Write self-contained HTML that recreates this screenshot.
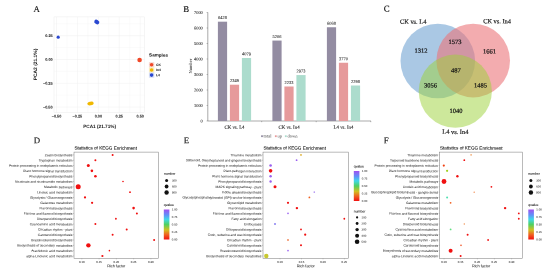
<!DOCTYPE html>
<html><head><meta charset="utf-8"><style>
html,body{margin:0;padding:0;background:#fff;}
body{width:550px;height:272px;overflow:hidden;}
svg{display:block;text-rendering:geometricPrecision;filter:blur(0.3px);}
</style></head><body>
<svg width="550" height="272" viewBox="0 0 550 272">
<rect width="550" height="272" fill="#fff"/>
<text transform="translate(33.60,11.90) rotate(0.2)" font-size="8.8" font-family='"Liberation Serif", serif' fill="#111" stroke="#111" stroke-width="0.15" >A</text>
<rect x="54.0" y="16.9" width="90.5" height="95.69999999999999" fill="#fff" stroke="#ececec" stroke-width="0.5"/>
<line x1="66.96" y1="16.9" x2="66.96" y2="112.6" stroke="#f6f6f6" stroke-width="0.4"/>
<line x1="54.0" y1="95.20" x2="144.5" y2="95.20" stroke="#f6f6f6" stroke-width="0.4"/>
<line x1="87.89" y1="16.9" x2="87.89" y2="112.6" stroke="#f6f6f6" stroke-width="0.4"/>
<line x1="54.0" y1="71.40" x2="144.5" y2="71.40" stroke="#f6f6f6" stroke-width="0.4"/>
<line x1="108.81" y1="16.9" x2="108.81" y2="112.6" stroke="#f6f6f6" stroke-width="0.4"/>
<line x1="54.0" y1="47.60" x2="144.5" y2="47.60" stroke="#f6f6f6" stroke-width="0.4"/>
<line x1="129.74" y1="16.9" x2="129.74" y2="112.6" stroke="#f6f6f6" stroke-width="0.4"/>
<line x1="54.0" y1="23.80" x2="144.5" y2="23.80" stroke="#f6f6f6" stroke-width="0.4"/>
<line x1="56.50" y1="16.9" x2="56.50" y2="112.6" stroke="#efefef" stroke-width="0.5"/>
<line x1="54.0" y1="107.10" x2="144.5" y2="107.10" stroke="#efefef" stroke-width="0.5"/>
<line x1="77.42" y1="16.9" x2="77.42" y2="112.6" stroke="#efefef" stroke-width="0.5"/>
<line x1="54.0" y1="83.30" x2="144.5" y2="83.30" stroke="#efefef" stroke-width="0.5"/>
<line x1="98.35" y1="16.9" x2="98.35" y2="112.6" stroke="#efefef" stroke-width="0.5"/>
<line x1="54.0" y1="59.50" x2="144.5" y2="59.50" stroke="#efefef" stroke-width="0.5"/>
<line x1="119.27" y1="16.9" x2="119.27" y2="112.6" stroke="#efefef" stroke-width="0.5"/>
<line x1="54.0" y1="35.70" x2="144.5" y2="35.70" stroke="#efefef" stroke-width="0.5"/>
<line x1="140.20" y1="16.9" x2="140.20" y2="112.6" stroke="#efefef" stroke-width="0.5"/>
<text transform="translate(52.60,37.05) rotate(0.2)" font-size="3.8" font-family='"Liberation Sans", sans-serif' text-anchor="end" fill="#333" font-weight="bold" stroke="#333" stroke-width="0.1" >0.25</text>
<text transform="translate(52.60,60.85) rotate(0.2)" font-size="3.8" font-family='"Liberation Sans", sans-serif' text-anchor="end" fill="#333" font-weight="bold" stroke="#333" stroke-width="0.1" >0.00</text>
<text transform="translate(52.60,84.65) rotate(0.2)" font-size="3.8" font-family='"Liberation Sans", sans-serif' text-anchor="end" fill="#333" font-weight="bold" stroke="#333" stroke-width="0.1" >−0.25</text>
<text transform="translate(52.60,108.45) rotate(0.2)" font-size="3.8" font-family='"Liberation Sans", sans-serif' text-anchor="end" fill="#333" font-weight="bold" stroke="#333" stroke-width="0.1" >−0.50</text>
<text transform="translate(56.50,117.60) rotate(0.2)" font-size="3.8" font-family='"Liberation Sans", sans-serif' text-anchor="middle" fill="#333" font-weight="bold" stroke="#333" stroke-width="0.1" >−0.50</text>
<text transform="translate(77.42,117.60) rotate(0.2)" font-size="3.8" font-family='"Liberation Sans", sans-serif' text-anchor="middle" fill="#333" font-weight="bold" stroke="#333" stroke-width="0.1" >−0.25</text>
<text transform="translate(98.35,117.60) rotate(0.2)" font-size="3.8" font-family='"Liberation Sans", sans-serif' text-anchor="middle" fill="#333" font-weight="bold" stroke="#333" stroke-width="0.1" >0.00</text>
<text transform="translate(119.27,117.60) rotate(0.2)" font-size="3.8" font-family='"Liberation Sans", sans-serif' text-anchor="middle" fill="#333" font-weight="bold" stroke="#333" stroke-width="0.1" >0.25</text>
<text transform="translate(140.20,117.60) rotate(0.2)" font-size="3.8" font-family='"Liberation Sans", sans-serif' text-anchor="middle" fill="#333" font-weight="bold" stroke="#333" stroke-width="0.1" >0.50</text>
<text transform="translate(99.60,128.00) rotate(0.2)" font-size="4.7" font-family='"Liberation Sans", sans-serif' text-anchor="middle" fill="#111" font-weight="bold" >PCA1 (21.71%)</text>
<text x="0" y="0" font-size="4.9" font-family='"Liberation Sans", sans-serif' font-weight="bold" fill="#111" text-anchor="middle" transform="translate(37.2,64.5) rotate(-90)">PCA2 (21.1%)</text>
<circle cx="58.2" cy="37.2" r="1.6" fill="#2a48d0"/>
<ellipse cx="96.8" cy="22.0" rx="2.7" ry="2.1" fill="#2a48d0" transform="rotate(30 96.8 22)"/>
<circle cx="139.6" cy="60.0" r="2.3" fill="#f04828"/>
<ellipse cx="90.5" cy="103.5" rx="3.2" ry="1.9" fill="#f0b800" transform="rotate(-10 90.5 103.5)"/>
<text transform="translate(149.10,56.60) rotate(0.2)" font-size="4.6" font-family='"Liberation Sans", sans-serif' fill="#111" font-weight="bold" >Samples</text>
<rect x="148.9" y="62.20" width="5.4" height="5.2" fill="#f8d8d0"/>
<circle cx="151.6" cy="64.80" r="1.8" fill="#f04828"/>
<text transform="translate(156.00,65.95) rotate(0.2)" font-size="3.3" font-family='"Liberation Sans", sans-serif' fill="#333" font-weight="bold" stroke="#333" stroke-width="0.08" >CK</text>
<rect x="148.9" y="67.35" width="5.4" height="5.2" fill="#f8ecc0"/>
<circle cx="151.6" cy="69.95" r="1.8" fill="#f0b800"/>
<text transform="translate(156.00,71.10) rotate(0.2)" font-size="3.3" font-family='"Liberation Sans", sans-serif' fill="#333" font-weight="bold" stroke="#333" stroke-width="0.08" >In4</text>
<rect x="148.9" y="72.50" width="5.4" height="5.2" fill="#d4dcf4"/>
<circle cx="151.6" cy="75.10" r="1.8" fill="#2a48d0"/>
<text transform="translate(156.00,76.25) rotate(0.2)" font-size="3.3" font-family='"Liberation Sans", sans-serif' fill="#333" font-weight="bold" stroke="#333" stroke-width="0.08" >L4</text>
<text transform="translate(183.30,11.90) rotate(0.2)" font-size="8.8" font-family='"Liberation Serif", serif' fill="#111" stroke="#111" stroke-width="0.15" >B</text>
<line x1="207.8" y1="12.4" x2="207.8" y2="121.0" stroke="#555" stroke-width="0.5"/>
<line x1="207.8" y1="121.0" x2="371" y2="121.0" stroke="#555" stroke-width="0.5"/>
<line x1="206.60000000000002" y1="121.00" x2="207.8" y2="121.00" stroke="#555" stroke-width="0.4"/>
<text transform="translate(202.80,122.50) rotate(0.2)" font-size="4.4" font-family='"Liberation Serif", serif' text-anchor="end" fill="#333" stroke="#333" stroke-width="0.08" >0</text>
<line x1="206.60000000000002" y1="105.50" x2="207.8" y2="105.50" stroke="#555" stroke-width="0.4"/>
<text transform="translate(202.80,107.00) rotate(0.2)" font-size="4.4" font-family='"Liberation Serif", serif' text-anchor="end" fill="#333" stroke="#333" stroke-width="0.08" >1000</text>
<line x1="206.60000000000002" y1="90.00" x2="207.8" y2="90.00" stroke="#555" stroke-width="0.4"/>
<text transform="translate(202.80,91.50) rotate(0.2)" font-size="4.4" font-family='"Liberation Serif", serif' text-anchor="end" fill="#333" stroke="#333" stroke-width="0.08" >2000</text>
<line x1="206.60000000000002" y1="74.50" x2="207.8" y2="74.50" stroke="#555" stroke-width="0.4"/>
<text transform="translate(202.80,76.00) rotate(0.2)" font-size="4.4" font-family='"Liberation Serif", serif' text-anchor="end" fill="#333" stroke="#333" stroke-width="0.08" >3000</text>
<line x1="206.60000000000002" y1="59.00" x2="207.8" y2="59.00" stroke="#555" stroke-width="0.4"/>
<text transform="translate(202.80,60.50) rotate(0.2)" font-size="4.4" font-family='"Liberation Serif", serif' text-anchor="end" fill="#333" stroke="#333" stroke-width="0.08" >4000</text>
<line x1="206.60000000000002" y1="43.50" x2="207.8" y2="43.50" stroke="#555" stroke-width="0.4"/>
<text transform="translate(202.80,45.00) rotate(0.2)" font-size="4.4" font-family='"Liberation Serif", serif' text-anchor="end" fill="#333" stroke="#333" stroke-width="0.08" >5000</text>
<line x1="206.60000000000002" y1="28.00" x2="207.8" y2="28.00" stroke="#555" stroke-width="0.4"/>
<text transform="translate(202.80,29.50) rotate(0.2)" font-size="4.4" font-family='"Liberation Serif", serif' text-anchor="end" fill="#333" stroke="#333" stroke-width="0.08" >6000</text>
<line x1="206.60000000000002" y1="12.50" x2="207.8" y2="12.50" stroke="#555" stroke-width="0.4"/>
<text transform="translate(202.80,14.00) rotate(0.2)" font-size="4.4" font-family='"Liberation Serif", serif' text-anchor="end" fill="#333" stroke="#333" stroke-width="0.08" >7000</text>
<line x1="261.7" y1="121.0" x2="261.7" y2="122.2" stroke="#555" stroke-width="0.4"/>
<line x1="316.2" y1="121.0" x2="316.2" y2="122.2" stroke="#555" stroke-width="0.4"/>
<line x1="370.8" y1="121.0" x2="370.8" y2="122.2" stroke="#555" stroke-width="0.4"/>
<text x="0" y="0" font-size="4.5" font-family='"Liberation Serif", serif' fill="#333" text-anchor="middle" transform="translate(191.5,66) rotate(-90)">Number</text>
<rect x="217.90" y="21.69" width="9.2" height="99.31" fill="#938ca2"/>
<text transform="translate(222.50,19.09) rotate(0.2)" font-size="4.4" font-family='"Liberation Serif", serif' text-anchor="middle" fill="#333" stroke="#333" stroke-width="0.08" >6428</text>
<rect x="229.90" y="84.71" width="9.2" height="36.29" fill="#e69a9b"/>
<text transform="translate(234.50,82.11) rotate(0.2)" font-size="4.4" font-family='"Liberation Serif", serif' text-anchor="middle" fill="#333" stroke="#333" stroke-width="0.08" >2349</text>
<rect x="241.90" y="57.98" width="9.2" height="63.02" fill="#acdccd"/>
<text transform="translate(246.50,55.38) rotate(0.2)" font-size="4.4" font-family='"Liberation Serif", serif' text-anchor="middle" fill="#333" stroke="#333" stroke-width="0.08" >4079</text>
<text transform="translate(234.50,128.80) rotate(0.2)" font-size="4.85" font-family='"Liberation Serif", serif' text-anchor="middle" fill="#222" stroke="#222" stroke-width="0.1" >CK vs. L4</text>
<rect x="272.40" y="40.57" width="9.2" height="80.43" fill="#938ca2"/>
<text transform="translate(277.00,37.97) rotate(0.2)" font-size="4.4" font-family='"Liberation Serif", serif' text-anchor="middle" fill="#333" stroke="#333" stroke-width="0.08" >5206</text>
<rect x="284.40" y="86.50" width="9.2" height="34.50" fill="#e69a9b"/>
<text transform="translate(289.00,83.90) rotate(0.2)" font-size="4.4" font-family='"Liberation Serif", serif' text-anchor="middle" fill="#333" stroke="#333" stroke-width="0.08" >2233</text>
<rect x="296.40" y="75.07" width="9.2" height="45.93" fill="#acdccd"/>
<text transform="translate(301.00,72.47) rotate(0.2)" font-size="4.4" font-family='"Liberation Serif", serif' text-anchor="middle" fill="#333" stroke="#333" stroke-width="0.08" >2973</text>
<text transform="translate(289.00,128.80) rotate(0.2)" font-size="4.85" font-family='"Liberation Serif", serif' text-anchor="middle" fill="#222" stroke="#222" stroke-width="0.1" >CK vs. In4</text>
<rect x="326.90" y="27.25" width="9.2" height="93.75" fill="#938ca2"/>
<text transform="translate(331.50,24.65) rotate(0.2)" font-size="4.4" font-family='"Liberation Serif", serif' text-anchor="middle" fill="#333" stroke="#333" stroke-width="0.08" >6068</text>
<rect x="338.90" y="62.75" width="9.2" height="58.25" fill="#e69a9b"/>
<text transform="translate(343.50,60.15) rotate(0.2)" font-size="4.4" font-family='"Liberation Serif", serif' text-anchor="middle" fill="#333" stroke="#333" stroke-width="0.08" >3770</text>
<rect x="350.90" y="85.50" width="9.2" height="35.50" fill="#acdccd"/>
<text transform="translate(355.50,82.90) rotate(0.2)" font-size="4.4" font-family='"Liberation Serif", serif' text-anchor="middle" fill="#333" stroke="#333" stroke-width="0.08" >2298</text>
<text transform="translate(343.50,128.80) rotate(0.2)" font-size="4.85" font-family='"Liberation Serif", serif' text-anchor="middle" fill="#222" stroke="#222" stroke-width="0.1" >L4 vs. In4</text>
<rect x="261.10" y="135.3" width="1.8" height="1.8" fill="#938ca2"/>
<text transform="translate(263.40,137.60) rotate(0.2)" font-size="4.5" font-family='"Liberation Serif", serif' fill="#666" stroke="#666" stroke-width="0.05" >total</text>
<rect x="274.90" y="135.3" width="1.8" height="1.8" fill="#e69a9b"/>
<text transform="translate(277.40,137.60) rotate(0.2)" font-size="4.5" font-family='"Liberation Serif", serif' fill="#666" stroke="#666" stroke-width="0.05" >up</text>
<rect x="284.90" y="135.3" width="1.8" height="1.8" fill="#acdccd"/>
<text transform="translate(287.40,137.60) rotate(0.2)" font-size="4.5" font-family='"Liberation Serif", serif' fill="#666" stroke="#666" stroke-width="0.05" >down</text>
<text transform="translate(383.80,11.60) rotate(0.2)" font-size="8.8" font-family='"Liberation Serif", serif' fill="#111" stroke="#111" stroke-width="0.15" >C</text>
<g>
<circle cx="437.8" cy="61.0" r="37.3" fill="#5591c9" fill-opacity="0.5"/>
<circle cx="473.2" cy="60.6" r="36.8" fill="#eb757a" fill-opacity="0.6"/>
<circle cx="455.3" cy="91.2" r="36.6" fill="#9bd137" fill-opacity="0.5"/>
</g>
<text transform="translate(399.90,23.70) rotate(0.2)" font-size="6.4" font-family='"Liberation Serif", serif' fill="#111" stroke="#111" stroke-width="0.15" >CK vs. L4</text>
<text transform="translate(511.00,23.40) rotate(0.2)" font-size="6.4" font-family='"Liberation Serif", serif' text-anchor="end" fill="#111" stroke="#111" stroke-width="0.15" >CK vs. In4</text>
<text transform="translate(455.30,133.90) rotate(0.2)" font-size="6.4" font-family='"Liberation Serif", serif' text-anchor="middle" fill="#111" stroke="#111" stroke-width="0.15" >L4 vs. In4</text>
<text transform="translate(421.00,52.80) rotate(0.2)" font-size="6.5" font-family='"Liberation Serif", serif' text-anchor="middle" fill="#111" stroke="#111" stroke-width="0.2" >1312</text>
<text transform="translate(455.00,44.10) rotate(0.2)" font-size="6.5" font-family='"Liberation Serif", serif' text-anchor="middle" fill="#111" stroke="#111" stroke-width="0.2" >1573</text>
<text transform="translate(489.50,53.40) rotate(0.2)" font-size="6.5" font-family='"Liberation Serif", serif' text-anchor="middle" fill="#111" stroke="#111" stroke-width="0.2" >1661</text>
<text transform="translate(455.80,72.50) rotate(0.2)" font-size="6.5" font-family='"Liberation Serif", serif' text-anchor="middle" fill="#111" stroke="#111" stroke-width="0.2" >487</text>
<text transform="translate(430.60,87.60) rotate(0.2)" font-size="6.5" font-family='"Liberation Serif", serif' text-anchor="middle" fill="#111" stroke="#111" stroke-width="0.2" >3056</text>
<text transform="translate(480.40,87.40) rotate(0.2)" font-size="6.5" font-family='"Liberation Serif", serif' text-anchor="middle" fill="#111" stroke="#111" stroke-width="0.2" >1485</text>
<text transform="translate(456.00,112.90) rotate(0.2)" font-size="6.5" font-family='"Liberation Serif", serif' text-anchor="middle" fill="#111" stroke="#111" stroke-width="0.2" >1040</text>
<text transform="translate(33.75,143.20) rotate(0.2)" font-size="8.8" font-family='"Liberation Serif", serif' fill="#111" stroke="#111" stroke-width="0.15" >D</text>
<text transform="translate(74.40,149.50) rotate(0.2)" font-size="4.6" font-family='"Liberation Sans", sans-serif' fill="#222" stroke="#222" stroke-width="0.1" >Statistics of KEGG Enrichment</text>
<rect x="74.0" y="152.1" width="84.6" height="106.29999999999998" fill="none" stroke="#777" stroke-width="0.5"/>
<line x1="73.0" y1="154.90" x2="74.0" y2="154.90" stroke="#777" stroke-width="0.35"/>
<text transform="translate(72.50,156.25) rotate(0.2)" font-size="3.25" font-family='"Liberation Sans", sans-serif' text-anchor="end" fill="#333" stroke="#333" stroke-width="0.03" >Zeatin biosynthesis</text>
<line x1="73.0" y1="160.22" x2="74.0" y2="160.22" stroke="#777" stroke-width="0.35"/>
<text transform="translate(72.50,161.57) rotate(0.2)" font-size="3.25" font-family='"Liberation Sans", sans-serif' text-anchor="end" fill="#333" stroke="#333" stroke-width="0.03" >Tryptophan metabolism</text>
<line x1="73.0" y1="165.54" x2="74.0" y2="165.54" stroke="#777" stroke-width="0.35"/>
<text transform="translate(72.50,166.89) rotate(0.2)" font-size="3.25" font-family='"Liberation Sans", sans-serif' text-anchor="end" fill="#333" stroke="#333" stroke-width="0.03" >Protein processing in endoplasmic reticulum</text>
<line x1="73.0" y1="170.86" x2="74.0" y2="170.86" stroke="#777" stroke-width="0.35"/>
<text transform="translate(72.50,172.21) rotate(0.2)" font-size="3.25" font-family='"Liberation Sans", sans-serif' text-anchor="end" fill="#333" stroke="#333" stroke-width="0.03" >Plant hormone signal transduction</text>
<line x1="73.0" y1="176.18" x2="74.0" y2="176.18" stroke="#777" stroke-width="0.35"/>
<text transform="translate(72.50,177.53) rotate(0.2)" font-size="3.25" font-family='"Liberation Sans", sans-serif' text-anchor="end" fill="#333" stroke="#333" stroke-width="0.03" >Phenylpropanoid biosynthesis</text>
<line x1="73.0" y1="181.50" x2="74.0" y2="181.50" stroke="#777" stroke-width="0.35"/>
<text transform="translate(72.50,182.85) rotate(0.2)" font-size="3.25" font-family='"Liberation Sans", sans-serif' text-anchor="end" fill="#333" stroke="#333" stroke-width="0.03" >Nicotinate and nicotinamide metabolism</text>
<line x1="73.0" y1="186.82" x2="74.0" y2="186.82" stroke="#777" stroke-width="0.35"/>
<text transform="translate(72.50,188.17) rotate(0.2)" font-size="3.25" font-family='"Liberation Sans", sans-serif' text-anchor="end" fill="#333" stroke="#333" stroke-width="0.03" >Metabolic pathways</text>
<line x1="73.0" y1="192.14" x2="74.0" y2="192.14" stroke="#777" stroke-width="0.35"/>
<text transform="translate(72.50,193.49) rotate(0.2)" font-size="3.25" font-family='"Liberation Sans", sans-serif' text-anchor="end" fill="#333" stroke="#333" stroke-width="0.03" >Linoleic acid metabolism</text>
<line x1="73.0" y1="197.46" x2="74.0" y2="197.46" stroke="#777" stroke-width="0.35"/>
<text transform="translate(72.50,198.81) rotate(0.2)" font-size="3.25" font-family='"Liberation Sans", sans-serif' text-anchor="end" fill="#333" stroke="#333" stroke-width="0.03" >Glycolysis / Gluconeogenesis</text>
<line x1="73.0" y1="202.78" x2="74.0" y2="202.78" stroke="#777" stroke-width="0.35"/>
<text transform="translate(72.50,204.13) rotate(0.2)" font-size="3.25" font-family='"Liberation Sans", sans-serif' text-anchor="end" fill="#333" stroke="#333" stroke-width="0.03" >Galactose metabolism</text>
<line x1="73.0" y1="208.10" x2="74.0" y2="208.10" stroke="#777" stroke-width="0.35"/>
<text transform="translate(72.50,209.45) rotate(0.2)" font-size="3.25" font-family='"Liberation Sans", sans-serif' text-anchor="end" fill="#333" stroke="#333" stroke-width="0.03" >Flavonoid biosynthesis</text>
<line x1="73.0" y1="213.42" x2="74.0" y2="213.42" stroke="#777" stroke-width="0.35"/>
<text transform="translate(72.50,214.77) rotate(0.2)" font-size="3.25" font-family='"Liberation Sans", sans-serif' text-anchor="end" fill="#333" stroke="#333" stroke-width="0.03" >Flavone and flavonol biosynthesis</text>
<line x1="73.0" y1="218.74" x2="74.0" y2="218.74" stroke="#777" stroke-width="0.35"/>
<text transform="translate(72.50,220.09) rotate(0.2)" font-size="3.25" font-family='"Liberation Sans", sans-serif' text-anchor="end" fill="#333" stroke="#333" stroke-width="0.03" >Diterpenoid biosynthesis</text>
<line x1="73.0" y1="224.06" x2="74.0" y2="224.06" stroke="#777" stroke-width="0.35"/>
<text transform="translate(72.50,225.41) rotate(0.2)" font-size="3.25" font-family='"Liberation Sans", sans-serif' text-anchor="end" fill="#333" stroke="#333" stroke-width="0.03" >Cyanoamino acid metabolism</text>
<line x1="73.0" y1="229.38" x2="74.0" y2="229.38" stroke="#777" stroke-width="0.35"/>
<text transform="translate(72.50,230.73) rotate(0.2)" font-size="3.25" font-family='"Liberation Sans", sans-serif' text-anchor="end" fill="#333" stroke="#333" stroke-width="0.03" >Circadian rhythm - plant</text>
<line x1="73.0" y1="234.70" x2="74.0" y2="234.70" stroke="#777" stroke-width="0.35"/>
<text transform="translate(72.50,236.05) rotate(0.2)" font-size="3.25" font-family='"Liberation Sans", sans-serif' text-anchor="end" fill="#333" stroke="#333" stroke-width="0.03" >Carotenoid biosynthesis</text>
<line x1="73.0" y1="240.02" x2="74.0" y2="240.02" stroke="#777" stroke-width="0.35"/>
<text transform="translate(72.50,241.37) rotate(0.2)" font-size="3.25" font-family='"Liberation Sans", sans-serif' text-anchor="end" fill="#333" stroke="#333" stroke-width="0.03" >Brassinosteroid biosynthesis</text>
<line x1="73.0" y1="245.34" x2="74.0" y2="245.34" stroke="#777" stroke-width="0.35"/>
<text transform="translate(72.50,246.69) rotate(0.2)" font-size="3.25" font-family='"Liberation Sans", sans-serif' text-anchor="end" fill="#333" stroke="#333" stroke-width="0.03" >Biosynthesis of secondary metabolites</text>
<line x1="73.0" y1="250.66" x2="74.0" y2="250.66" stroke="#777" stroke-width="0.35"/>
<text transform="translate(72.50,252.01) rotate(0.2)" font-size="3.25" font-family='"Liberation Sans", sans-serif' text-anchor="end" fill="#333" stroke="#333" stroke-width="0.03" >Arachidonic acid metabolism</text>
<line x1="73.0" y1="255.98" x2="74.0" y2="255.98" stroke="#777" stroke-width="0.35"/>
<text transform="translate(72.50,257.33) rotate(0.2)" font-size="3.25" font-family='"Liberation Sans", sans-serif' text-anchor="end" fill="#333" stroke="#333" stroke-width="0.03" >alpha-Linolenic acid metabolism</text>
<circle cx="112.60" cy="154.90" r="1.0" fill="#f01010"/>
<circle cx="95.40" cy="160.22" r="1.0" fill="#f01010"/>
<circle cx="88.30" cy="165.54" r="1.5" fill="#f01010"/>
<circle cx="91.90" cy="170.86" r="1.3" fill="#f01010"/>
<circle cx="95.40" cy="176.18" r="1.3" fill="#f01010"/>
<circle cx="123.00" cy="181.50" r="0.8" fill="#f01010"/>
<circle cx="78.20" cy="186.82" r="2.5" fill="#f01010"/>
<circle cx="130.00" cy="192.14" r="0.9" fill="#f01010"/>
<circle cx="85.00" cy="197.46" r="1.1" fill="#f01010"/>
<circle cx="92.10" cy="202.78" r="1.1" fill="#f01010"/>
<circle cx="133.60" cy="208.10" r="1.3" fill="#f01010"/>
<circle cx="136.90" cy="213.42" r="1.0" fill="#f01010"/>
<circle cx="115.90" cy="218.74" r="0.9" fill="#f01010"/>
<circle cx="95.40" cy="224.06" r="1.0" fill="#f01010"/>
<circle cx="126.70" cy="229.38" r="1.0" fill="#f01010"/>
<circle cx="112.60" cy="234.70" r="1.0" fill="#f01010"/>
<circle cx="154.10" cy="240.02" r="1.0" fill="#f01010"/>
<circle cx="88.40" cy="245.34" r="2.2" fill="#f01010"/>
<circle cx="109.40" cy="250.66" r="0.8" fill="#f01010"/>
<circle cx="102.40" cy="255.98" r="1.1" fill="#f01010"/>
<line x1="81.80" y1="258.4" x2="81.80" y2="259.4" stroke="#777" stroke-width="0.35"/>
<text transform="translate(81.80,262.90) rotate(0.2)" font-size="2.9" font-family='"Liberation Sans", sans-serif' text-anchor="middle" fill="#444" stroke="#444" stroke-width="0.07" >0.10</text>
<line x1="99.10" y1="258.4" x2="99.10" y2="259.4" stroke="#777" stroke-width="0.35"/>
<text transform="translate(99.10,262.90) rotate(0.2)" font-size="2.9" font-family='"Liberation Sans", sans-serif' text-anchor="middle" fill="#444" stroke="#444" stroke-width="0.07" >0.15</text>
<line x1="116.40" y1="258.4" x2="116.40" y2="259.4" stroke="#777" stroke-width="0.35"/>
<text transform="translate(116.40,262.90) rotate(0.2)" font-size="2.9" font-family='"Liberation Sans", sans-serif' text-anchor="middle" fill="#444" stroke="#444" stroke-width="0.07" >0.20</text>
<line x1="133.60" y1="258.4" x2="133.60" y2="259.4" stroke="#777" stroke-width="0.35"/>
<text transform="translate(133.60,262.90) rotate(0.2)" font-size="2.9" font-family='"Liberation Sans", sans-serif' text-anchor="middle" fill="#444" stroke="#444" stroke-width="0.07" >0.25</text>
<line x1="150.90" y1="258.4" x2="150.90" y2="259.4" stroke="#777" stroke-width="0.35"/>
<text transform="translate(150.90,262.90) rotate(0.2)" font-size="2.9" font-family='"Liberation Sans", sans-serif' text-anchor="middle" fill="#444" stroke="#444" stroke-width="0.07" >0.30</text>
<text transform="translate(116.30,267.20) rotate(0.2)" font-size="3.8" font-family='"Liberation Sans", sans-serif' text-anchor="middle" fill="#222" stroke="#222" stroke-width="0.04" >Rich factor</text>
<text transform="translate(164.00,174.70) rotate(0.2)" font-size="3.4" font-family='"Liberation Sans", sans-serif' fill="#222" stroke="#222" stroke-width="0.08" >number</text>
<circle cx="166.60" cy="180.50" r="1.5" fill="#111"/>
<text transform="translate(172.00,181.50) rotate(0.2)" font-size="2.8" font-family='"Liberation Sans", sans-serif' fill="#444" stroke="#444" stroke-width="0.06" >300</text>
<circle cx="166.60" cy="186.50" r="1.9" fill="#111"/>
<text transform="translate(172.00,187.50) rotate(0.2)" font-size="2.8" font-family='"Liberation Sans", sans-serif' fill="#444" stroke="#444" stroke-width="0.06" >600</text>
<circle cx="166.60" cy="192.50" r="2.2" fill="#111"/>
<text transform="translate(172.00,193.50) rotate(0.2)" font-size="2.8" font-family='"Liberation Sans", sans-serif' fill="#444" stroke="#444" stroke-width="0.06" >900</text>
<text transform="translate(163.80,206.00) rotate(0.2)" font-size="3.4" font-family='"Liberation Sans", sans-serif' fill="#222" stroke="#222" stroke-width="0.08" >qvalue</text>
<defs><linearGradient id="g163" x1="0" y1="0" x2="0" y2="1"><stop offset="0" stop-color="#a050f0"/><stop offset="0.18" stop-color="#6090f8"/><stop offset="0.33" stop-color="#40d8e8"/><stop offset="0.5" stop-color="#50d060"/><stop offset="0.68" stop-color="#d0c020"/><stop offset="0.84" stop-color="#f06020"/><stop offset="1" stop-color="#f01010"/></linearGradient></defs>
<rect x="163.80" y="209.50" width="5.6" height="30" fill="url(#g163)"/>
<text transform="translate(171.80,210.50) rotate(0.2)" font-size="2.8" font-family='"Liberation Sans", sans-serif' fill="#444" stroke="#444" stroke-width="0.06" >1.00</text>
<text transform="translate(171.80,218.00) rotate(0.2)" font-size="2.8" font-family='"Liberation Sans", sans-serif' fill="#444" stroke="#444" stroke-width="0.06" >0.75</text>
<text transform="translate(171.80,225.50) rotate(0.2)" font-size="2.8" font-family='"Liberation Sans", sans-serif' fill="#444" stroke="#444" stroke-width="0.06" >0.50</text>
<text transform="translate(171.80,233.00) rotate(0.2)" font-size="2.8" font-family='"Liberation Sans", sans-serif' fill="#444" stroke="#444" stroke-width="0.06" >0.25</text>
<text transform="translate(171.80,240.50) rotate(0.2)" font-size="2.8" font-family='"Liberation Sans", sans-serif' fill="#444" stroke="#444" stroke-width="0.06" >0.00</text>
<text transform="translate(183.75,143.20) rotate(0.2)" font-size="8.8" font-family='"Liberation Serif", serif' fill="#111" stroke="#111" stroke-width="0.15" >E</text>
<text transform="translate(263.40,149.50) rotate(0.2)" font-size="4.6" font-family='"Liberation Sans", sans-serif' fill="#222" stroke="#222" stroke-width="0.1" >Statistics of KEGG Enrichment</text>
<rect x="263.0" y="152.1" width="85.5" height="106.29999999999998" fill="none" stroke="#777" stroke-width="0.5"/>
<line x1="262.0" y1="154.90" x2="263.0" y2="154.90" stroke="#777" stroke-width="0.35"/>
<text transform="translate(261.50,156.25) rotate(0.2)" font-size="3.25" font-family='"Liberation Sans", sans-serif' text-anchor="end" fill="#333" stroke="#333" stroke-width="0.03" >Thiamine metabolism</text>
<line x1="262.0" y1="160.22" x2="263.0" y2="160.22" stroke="#777" stroke-width="0.35"/>
<text transform="translate(261.50,161.57) rotate(0.2)" font-size="3.25" font-family='"Liberation Sans", sans-serif' text-anchor="end" fill="#333" stroke="#333" stroke-width="0.03" >Stilbenoid, diarylheptanoid and gingerol biosynthesis</text>
<line x1="262.0" y1="165.54" x2="263.0" y2="165.54" stroke="#777" stroke-width="0.35"/>
<text transform="translate(261.50,166.89) rotate(0.2)" font-size="3.25" font-family='"Liberation Sans", sans-serif' text-anchor="end" fill="#333" stroke="#333" stroke-width="0.03" >Protein processing in endoplasmic reticulum</text>
<line x1="262.0" y1="170.86" x2="263.0" y2="170.86" stroke="#777" stroke-width="0.35"/>
<text transform="translate(261.50,172.21) rotate(0.2)" font-size="3.25" font-family='"Liberation Sans", sans-serif' text-anchor="end" fill="#333" stroke="#333" stroke-width="0.03" >Plant-pathogen interaction</text>
<line x1="262.0" y1="176.18" x2="263.0" y2="176.18" stroke="#777" stroke-width="0.35"/>
<text transform="translate(261.50,177.53) rotate(0.2)" font-size="3.25" font-family='"Liberation Sans", sans-serif' text-anchor="end" fill="#333" stroke="#333" stroke-width="0.03" >Plant hormone signal transduction</text>
<line x1="262.0" y1="181.50" x2="263.0" y2="181.50" stroke="#777" stroke-width="0.35"/>
<text transform="translate(261.50,182.85) rotate(0.2)" font-size="3.25" font-family='"Liberation Sans", sans-serif' text-anchor="end" fill="#333" stroke="#333" stroke-width="0.03" >Phenylpropanoid biosynthesis</text>
<line x1="262.0" y1="186.82" x2="263.0" y2="186.82" stroke="#777" stroke-width="0.35"/>
<text transform="translate(261.50,188.17) rotate(0.2)" font-size="3.25" font-family='"Liberation Sans", sans-serif' text-anchor="end" fill="#333" stroke="#333" stroke-width="0.03" >MAPK signaling pathway - plant</text>
<line x1="262.0" y1="192.14" x2="263.0" y2="192.14" stroke="#777" stroke-width="0.35"/>
<text transform="translate(261.50,193.49) rotate(0.2)" font-size="3.25" font-family='"Liberation Sans", sans-serif' text-anchor="end" fill="#333" stroke="#333" stroke-width="0.03" >Indole alkaloid biosynthesis</text>
<line x1="262.0" y1="197.46" x2="263.0" y2="197.46" stroke="#777" stroke-width="0.35"/>
<text transform="translate(261.50,198.81) rotate(0.2)" font-size="3.25" font-family='"Liberation Sans", sans-serif' text-anchor="end" fill="#333" stroke="#333" stroke-width="0.03" >Glycosylphosphatidylinositol (GPI)-anchor biosynthesis</text>
<line x1="262.0" y1="202.78" x2="263.0" y2="202.78" stroke="#777" stroke-width="0.35"/>
<text transform="translate(261.50,204.13) rotate(0.2)" font-size="3.25" font-family='"Liberation Sans", sans-serif' text-anchor="end" fill="#333" stroke="#333" stroke-width="0.03" >Glycerolipid metabolism</text>
<line x1="262.0" y1="208.10" x2="263.0" y2="208.10" stroke="#777" stroke-width="0.35"/>
<text transform="translate(261.50,209.45) rotate(0.2)" font-size="3.25" font-family='"Liberation Sans", sans-serif' text-anchor="end" fill="#333" stroke="#333" stroke-width="0.03" >Flavonoid biosynthesis</text>
<line x1="262.0" y1="213.42" x2="263.0" y2="213.42" stroke="#777" stroke-width="0.35"/>
<text transform="translate(261.50,214.77) rotate(0.2)" font-size="3.25" font-family='"Liberation Sans", sans-serif' text-anchor="end" fill="#333" stroke="#333" stroke-width="0.03" >Flavone and flavonol biosynthesis</text>
<line x1="262.0" y1="218.74" x2="263.0" y2="218.74" stroke="#777" stroke-width="0.35"/>
<text transform="translate(261.50,220.09) rotate(0.2)" font-size="3.25" font-family='"Liberation Sans", sans-serif' text-anchor="end" fill="#333" stroke="#333" stroke-width="0.03" >Fatty acid elongation</text>
<line x1="262.0" y1="224.06" x2="263.0" y2="224.06" stroke="#777" stroke-width="0.35"/>
<text transform="translate(261.50,225.41) rotate(0.2)" font-size="3.25" font-family='"Liberation Sans", sans-serif' text-anchor="end" fill="#333" stroke="#333" stroke-width="0.03" >Endocytosis</text>
<line x1="262.0" y1="229.38" x2="263.0" y2="229.38" stroke="#777" stroke-width="0.35"/>
<text transform="translate(261.50,230.73) rotate(0.2)" font-size="3.25" font-family='"Liberation Sans", sans-serif' text-anchor="end" fill="#333" stroke="#333" stroke-width="0.03" >Diterpenoid biosynthesis</text>
<line x1="262.0" y1="234.70" x2="263.0" y2="234.70" stroke="#777" stroke-width="0.35"/>
<text transform="translate(261.50,236.05) rotate(0.2)" font-size="3.25" font-family='"Liberation Sans", sans-serif' text-anchor="end" fill="#333" stroke="#333" stroke-width="0.03" >Cutin, suberine and wax biosynthesis</text>
<line x1="262.0" y1="240.02" x2="263.0" y2="240.02" stroke="#777" stroke-width="0.35"/>
<text transform="translate(261.50,241.37) rotate(0.2)" font-size="3.25" font-family='"Liberation Sans", sans-serif' text-anchor="end" fill="#333" stroke="#333" stroke-width="0.03" >Circadian rhythm - plant</text>
<line x1="262.0" y1="245.34" x2="263.0" y2="245.34" stroke="#777" stroke-width="0.35"/>
<text transform="translate(261.50,246.69) rotate(0.2)" font-size="3.25" font-family='"Liberation Sans", sans-serif' text-anchor="end" fill="#333" stroke="#333" stroke-width="0.03" >Carotenoid biosynthesis</text>
<line x1="262.0" y1="250.66" x2="263.0" y2="250.66" stroke="#777" stroke-width="0.35"/>
<text transform="translate(261.50,252.01) rotate(0.2)" font-size="3.25" font-family='"Liberation Sans", sans-serif' text-anchor="end" fill="#333" stroke="#333" stroke-width="0.03" >Brassinosteroid biosynthesis</text>
<line x1="262.0" y1="255.98" x2="263.0" y2="255.98" stroke="#777" stroke-width="0.35"/>
<text transform="translate(261.50,257.33) rotate(0.2)" font-size="3.25" font-family='"Liberation Sans", sans-serif' text-anchor="end" fill="#333" stroke="#333" stroke-width="0.03" >Biosynthesis of secondary metabolites</text>
<circle cx="301.00" cy="154.90" r="0.9" fill="#e0b030"/>
<circle cx="296.60" cy="160.22" r="0.9" fill="#9a60f0"/>
<circle cx="270.60" cy="165.54" r="1.3" fill="#9a60f0"/>
<circle cx="270.60" cy="170.86" r="1.8" fill="#f01010"/>
<circle cx="270.60" cy="176.18" r="1.2" fill="#9a60f0"/>
<circle cx="270.60" cy="181.50" r="1.2" fill="#9a60f0"/>
<circle cx="275.00" cy="186.82" r="1.5" fill="#f01010"/>
<circle cx="314.30" cy="192.14" r="0.8" fill="#b090f0"/>
<circle cx="309.40" cy="197.46" r="0.9" fill="#f06020"/>
<circle cx="288.00" cy="202.78" r="1.1" fill="#f01010"/>
<circle cx="296.90" cy="208.10" r="1.2" fill="#f01010"/>
<circle cx="288.00" cy="213.42" r="0.8" fill="#9a60f0"/>
<circle cx="344.30" cy="218.74" r="0.9" fill="#f01010"/>
<circle cx="275.00" cy="224.06" r="1.0" fill="#8a80f0"/>
<circle cx="301.00" cy="229.38" r="0.9" fill="#f01010"/>
<circle cx="305.20" cy="234.70" r="1.1" fill="#f01010"/>
<circle cx="288.00" cy="240.02" r="0.9" fill="#f08050"/>
<circle cx="301.00" cy="245.34" r="1.0" fill="#f01010"/>
<circle cx="288.00" cy="250.66" r="0.8" fill="#9a60f0"/>
<circle cx="266.30" cy="255.98" r="2.2" fill="#c8c830"/>
<line x1="280.00" y1="258.4" x2="280.00" y2="259.4" stroke="#777" stroke-width="0.35"/>
<text transform="translate(280.00,262.90) rotate(0.2)" font-size="2.9" font-family='"Liberation Sans", sans-serif' text-anchor="middle" fill="#444" stroke="#444" stroke-width="0.07" >0.10</text>
<line x1="301.50" y1="258.4" x2="301.50" y2="259.4" stroke="#777" stroke-width="0.35"/>
<text transform="translate(301.50,262.90) rotate(0.2)" font-size="2.9" font-family='"Liberation Sans", sans-serif' text-anchor="middle" fill="#444" stroke="#444" stroke-width="0.07" >0.15</text>
<line x1="323.00" y1="258.4" x2="323.00" y2="259.4" stroke="#777" stroke-width="0.35"/>
<text transform="translate(323.00,262.90) rotate(0.2)" font-size="2.9" font-family='"Liberation Sans", sans-serif' text-anchor="middle" fill="#444" stroke="#444" stroke-width="0.07" >0.20</text>
<line x1="344.40" y1="258.4" x2="344.40" y2="259.4" stroke="#777" stroke-width="0.35"/>
<text transform="translate(344.40,262.90) rotate(0.2)" font-size="2.9" font-family='"Liberation Sans", sans-serif' text-anchor="middle" fill="#444" stroke="#444" stroke-width="0.07" >0.25</text>
<text transform="translate(305.75,267.20) rotate(0.2)" font-size="3.8" font-family='"Liberation Sans", sans-serif' text-anchor="middle" fill="#222" stroke="#222" stroke-width="0.04" >Rich factor</text>
<text transform="translate(353.80,167.50) rotate(0.2)" font-size="3.4" font-family='"Liberation Sans", sans-serif' fill="#222" stroke="#222" stroke-width="0.08" >qvalue</text>
<defs><linearGradient id="g353" x1="0" y1="0" x2="0" y2="1"><stop offset="0" stop-color="#a050f0"/><stop offset="0.18" stop-color="#6090f8"/><stop offset="0.33" stop-color="#40d8e8"/><stop offset="0.5" stop-color="#50d060"/><stop offset="0.68" stop-color="#d0c020"/><stop offset="0.84" stop-color="#f06020"/><stop offset="1" stop-color="#f01010"/></linearGradient></defs>
<rect x="353.80" y="171.00" width="5.6" height="30" fill="url(#g353)"/>
<text transform="translate(361.80,172.00) rotate(0.2)" font-size="2.8" font-family='"Liberation Sans", sans-serif' fill="#444" stroke="#444" stroke-width="0.06" >1.00</text>
<text transform="translate(361.80,179.50) rotate(0.2)" font-size="2.8" font-family='"Liberation Sans", sans-serif' fill="#444" stroke="#444" stroke-width="0.06" >0.75</text>
<text transform="translate(361.80,187.00) rotate(0.2)" font-size="2.8" font-family='"Liberation Sans", sans-serif' fill="#444" stroke="#444" stroke-width="0.06" >0.50</text>
<text transform="translate(361.80,194.50) rotate(0.2)" font-size="2.8" font-family='"Liberation Sans", sans-serif' fill="#444" stroke="#444" stroke-width="0.06" >0.25</text>
<text transform="translate(361.80,202.00) rotate(0.2)" font-size="2.8" font-family='"Liberation Sans", sans-serif' fill="#444" stroke="#444" stroke-width="0.06" >0.00</text>
<text transform="translate(353.80,212.50) rotate(0.2)" font-size="3.4" font-family='"Liberation Sans", sans-serif' fill="#222" stroke="#222" stroke-width="0.08" >number</text>
<circle cx="357.1" cy="217.40" r="1.1" fill="#111"/>
<text transform="translate(361.60,218.40) rotate(0.2)" font-size="2.8" font-family='"Liberation Sans", sans-serif' fill="#444" stroke="#444" stroke-width="0.06" >100</text>
<circle cx="357.1" cy="223.50" r="1.4" fill="#111"/>
<text transform="translate(361.60,224.50) rotate(0.2)" font-size="2.8" font-family='"Liberation Sans", sans-serif' fill="#444" stroke="#444" stroke-width="0.06" >200</text>
<circle cx="357.1" cy="229.60" r="1.7" fill="#111"/>
<text transform="translate(361.60,230.60) rotate(0.2)" font-size="2.8" font-family='"Liberation Sans", sans-serif' fill="#444" stroke="#444" stroke-width="0.06" >300</text>
<circle cx="357.1" cy="235.70" r="2.0" fill="#111"/>
<text transform="translate(361.60,236.70) rotate(0.2)" font-size="2.8" font-family='"Liberation Sans", sans-serif' fill="#444" stroke="#444" stroke-width="0.06" >400</text>
<circle cx="357.1" cy="241.80" r="2.3" fill="#111"/>
<text transform="translate(361.60,242.80) rotate(0.2)" font-size="2.8" font-family='"Liberation Sans", sans-serif' fill="#444" stroke="#444" stroke-width="0.06" >500</text>
<text transform="translate(383.75,143.20) rotate(0.2)" font-size="8.8" font-family='"Liberation Serif", serif' fill="#111" stroke="#111" stroke-width="0.15" >F</text>
<text transform="translate(440.00,149.50) rotate(0.2)" font-size="4.6" font-family='"Liberation Sans", sans-serif' fill="#222" stroke="#222" stroke-width="0.1" >Statistics of KEGG Enrichment</text>
<rect x="439.6" y="152.1" width="83.0" height="106.29999999999998" fill="none" stroke="#777" stroke-width="0.5"/>
<line x1="438.6" y1="154.90" x2="439.6" y2="154.90" stroke="#777" stroke-width="0.35"/>
<text transform="translate(438.10,156.25) rotate(0.2)" font-size="3.25" font-family='"Liberation Sans", sans-serif' text-anchor="end" fill="#333" stroke="#333" stroke-width="0.03" >Thiamine metabolism</text>
<line x1="438.6" y1="160.22" x2="439.6" y2="160.22" stroke="#777" stroke-width="0.35"/>
<text transform="translate(438.10,161.57) rotate(0.2)" font-size="3.25" font-family='"Liberation Sans", sans-serif' text-anchor="end" fill="#333" stroke="#333" stroke-width="0.03" >Terpenoid backbone biosynthesis</text>
<line x1="438.6" y1="165.54" x2="439.6" y2="165.54" stroke="#777" stroke-width="0.35"/>
<text transform="translate(438.10,166.89) rotate(0.2)" font-size="3.25" font-family='"Liberation Sans", sans-serif' text-anchor="end" fill="#333" stroke="#333" stroke-width="0.03" >Protein processing in endoplasmic reticulum</text>
<line x1="438.6" y1="170.86" x2="439.6" y2="170.86" stroke="#777" stroke-width="0.35"/>
<text transform="translate(438.10,172.21) rotate(0.2)" font-size="3.25" font-family='"Liberation Sans", sans-serif' text-anchor="end" fill="#333" stroke="#333" stroke-width="0.03" >Plant hormone signal transduction</text>
<line x1="438.6" y1="176.18" x2="439.6" y2="176.18" stroke="#777" stroke-width="0.35"/>
<text transform="translate(438.10,177.53) rotate(0.2)" font-size="3.25" font-family='"Liberation Sans", sans-serif' text-anchor="end" fill="#333" stroke="#333" stroke-width="0.03" >Phenylpropanoid biosynthesis</text>
<line x1="438.6" y1="181.50" x2="439.6" y2="181.50" stroke="#777" stroke-width="0.35"/>
<text transform="translate(438.10,182.85) rotate(0.2)" font-size="3.25" font-family='"Liberation Sans", sans-serif' text-anchor="end" fill="#333" stroke="#333" stroke-width="0.03" >Metabolic pathways</text>
<line x1="438.6" y1="186.82" x2="439.6" y2="186.82" stroke="#777" stroke-width="0.35"/>
<text transform="translate(438.10,188.17) rotate(0.2)" font-size="3.25" font-family='"Liberation Sans", sans-serif' text-anchor="end" fill="#333" stroke="#333" stroke-width="0.03" >Linoleic acid metabolism</text>
<line x1="438.6" y1="192.14" x2="439.6" y2="192.14" stroke="#777" stroke-width="0.35"/>
<text transform="translate(438.10,193.49) rotate(0.2)" font-size="3.25" font-family='"Liberation Sans", sans-serif' text-anchor="end" fill="#333" stroke="#333" stroke-width="0.03" >Glycosphingolipid biosynthesis - ganglio series</text>
<line x1="438.6" y1="197.46" x2="439.6" y2="197.46" stroke="#777" stroke-width="0.35"/>
<text transform="translate(438.10,198.81) rotate(0.2)" font-size="3.25" font-family='"Liberation Sans", sans-serif' text-anchor="end" fill="#333" stroke="#333" stroke-width="0.03" >Glycolysis / Gluconeogenesis</text>
<line x1="438.6" y1="202.78" x2="439.6" y2="202.78" stroke="#777" stroke-width="0.35"/>
<text transform="translate(438.10,204.13) rotate(0.2)" font-size="3.25" font-family='"Liberation Sans", sans-serif' text-anchor="end" fill="#333" stroke="#333" stroke-width="0.03" >Galactose metabolism</text>
<line x1="438.6" y1="208.10" x2="439.6" y2="208.10" stroke="#777" stroke-width="0.35"/>
<text transform="translate(438.10,209.45) rotate(0.2)" font-size="3.25" font-family='"Liberation Sans", sans-serif' text-anchor="end" fill="#333" stroke="#333" stroke-width="0.03" >Flavonoid biosynthesis</text>
<line x1="438.6" y1="213.42" x2="439.6" y2="213.42" stroke="#777" stroke-width="0.35"/>
<text transform="translate(438.10,214.77) rotate(0.2)" font-size="3.25" font-family='"Liberation Sans", sans-serif' text-anchor="end" fill="#333" stroke="#333" stroke-width="0.03" >Flavone and flavonol biosynthesis</text>
<line x1="438.6" y1="218.74" x2="439.6" y2="218.74" stroke="#777" stroke-width="0.35"/>
<text transform="translate(438.10,220.09) rotate(0.2)" font-size="3.25" font-family='"Liberation Sans", sans-serif' text-anchor="end" fill="#333" stroke="#333" stroke-width="0.03" >Fatty acid elongation</text>
<line x1="438.6" y1="224.06" x2="439.6" y2="224.06" stroke="#777" stroke-width="0.35"/>
<text transform="translate(438.10,225.41) rotate(0.2)" font-size="3.25" font-family='"Liberation Sans", sans-serif' text-anchor="end" fill="#333" stroke="#333" stroke-width="0.03" >Diterpenoid biosynthesis</text>
<line x1="438.6" y1="229.38" x2="439.6" y2="229.38" stroke="#777" stroke-width="0.35"/>
<text transform="translate(438.10,230.73) rotate(0.2)" font-size="3.25" font-family='"Liberation Sans", sans-serif' text-anchor="end" fill="#333" stroke="#333" stroke-width="0.03" >Cyanoamino acid metabolism</text>
<line x1="438.6" y1="234.70" x2="439.6" y2="234.70" stroke="#777" stroke-width="0.35"/>
<text transform="translate(438.10,236.05) rotate(0.2)" font-size="3.25" font-family='"Liberation Sans", sans-serif' text-anchor="end" fill="#333" stroke="#333" stroke-width="0.03" >Cutin, suberine and wax biosynthesis</text>
<line x1="438.6" y1="240.02" x2="439.6" y2="240.02" stroke="#777" stroke-width="0.35"/>
<text transform="translate(438.10,241.37) rotate(0.2)" font-size="3.25" font-family='"Liberation Sans", sans-serif' text-anchor="end" fill="#333" stroke="#333" stroke-width="0.03" >Circadian rhythm - plant</text>
<line x1="438.6" y1="245.34" x2="439.6" y2="245.34" stroke="#777" stroke-width="0.35"/>
<text transform="translate(438.10,246.69) rotate(0.2)" font-size="3.25" font-family='"Liberation Sans", sans-serif' text-anchor="end" fill="#333" stroke="#333" stroke-width="0.03" >Carotenoid biosynthesis</text>
<line x1="438.6" y1="250.66" x2="439.6" y2="250.66" stroke="#777" stroke-width="0.35"/>
<text transform="translate(438.10,252.01) rotate(0.2)" font-size="3.25" font-family='"Liberation Sans", sans-serif' text-anchor="end" fill="#333" stroke="#333" stroke-width="0.03" >Biosynthesis of secondary metabolites</text>
<line x1="438.6" y1="255.98" x2="439.6" y2="255.98" stroke="#777" stroke-width="0.35"/>
<text transform="translate(438.10,257.33) rotate(0.2)" font-size="3.25" font-family='"Liberation Sans", sans-serif' text-anchor="end" fill="#333" stroke="#333" stroke-width="0.03" >alpha-Linolenic acid metabolism</text>
<circle cx="471.10" cy="154.90" r="0.8" fill="#f0a060"/>
<circle cx="464.30" cy="160.22" r="0.9" fill="#f01010"/>
<circle cx="443.80" cy="165.54" r="1.1" fill="#f04010"/>
<circle cx="447.10" cy="170.86" r="1.1" fill="#a0d020"/>
<circle cx="457.40" cy="176.18" r="1.2" fill="#f01010"/>
<circle cx="444.00" cy="181.50" r="2.4" fill="#f01010"/>
<circle cx="491.40" cy="186.82" r="0.9" fill="#f01010"/>
<circle cx="474.20" cy="192.14" r="0.7" fill="#f08040"/>
<circle cx="447.10" cy="197.46" r="1.0" fill="#50e0b0"/>
<circle cx="450.60" cy="202.78" r="0.9" fill="#f06020"/>
<circle cx="505.10" cy="208.10" r="1.2" fill="#f01010"/>
<circle cx="518.80" cy="213.42" r="0.9" fill="#f01010"/>
<circle cx="518.80" cy="218.74" r="0.9" fill="#f01010"/>
<circle cx="464.30" cy="224.06" r="0.7" fill="#f09050"/>
<circle cx="450.60" cy="229.38" r="0.9" fill="#60e080"/>
<circle cx="467.60" cy="234.70" r="1.0" fill="#f01010"/>
<circle cx="488.10" cy="240.02" r="0.9" fill="#f01010"/>
<circle cx="461.00" cy="245.34" r="0.8" fill="#f05020"/>
<circle cx="450.60" cy="250.66" r="2.0" fill="#f01010"/>
<circle cx="460.60" cy="255.98" r="1.0" fill="#f01010"/>
<line x1="444.00" y1="258.4" x2="444.00" y2="259.4" stroke="#777" stroke-width="0.35"/>
<text transform="translate(444.00,262.90) rotate(0.2)" font-size="2.9" font-family='"Liberation Sans", sans-serif' text-anchor="middle" fill="#444" stroke="#444" stroke-width="0.07" >0.10</text>
<line x1="460.60" y1="258.4" x2="460.60" y2="259.4" stroke="#777" stroke-width="0.35"/>
<text transform="translate(460.60,262.90) rotate(0.2)" font-size="2.9" font-family='"Liberation Sans", sans-serif' text-anchor="middle" fill="#444" stroke="#444" stroke-width="0.07" >0.15</text>
<line x1="477.40" y1="258.4" x2="477.40" y2="259.4" stroke="#777" stroke-width="0.35"/>
<text transform="translate(477.40,262.90) rotate(0.2)" font-size="2.9" font-family='"Liberation Sans", sans-serif' text-anchor="middle" fill="#444" stroke="#444" stroke-width="0.07" >0.20</text>
<line x1="494.40" y1="258.4" x2="494.40" y2="259.4" stroke="#777" stroke-width="0.35"/>
<text transform="translate(494.40,262.90) rotate(0.2)" font-size="2.9" font-family='"Liberation Sans", sans-serif' text-anchor="middle" fill="#444" stroke="#444" stroke-width="0.07" >0.25</text>
<line x1="511.60" y1="258.4" x2="511.60" y2="259.4" stroke="#777" stroke-width="0.35"/>
<text transform="translate(511.60,262.90) rotate(0.2)" font-size="2.9" font-family='"Liberation Sans", sans-serif' text-anchor="middle" fill="#444" stroke="#444" stroke-width="0.07" >0.30</text>
<text transform="translate(481.10,267.20) rotate(0.2)" font-size="3.8" font-family='"Liberation Sans", sans-serif' text-anchor="middle" fill="#222" stroke="#222" stroke-width="0.04" >Rich factor</text>
<text transform="translate(528.30,174.70) rotate(0.2)" font-size="3.4" font-family='"Liberation Sans", sans-serif' fill="#222" stroke="#222" stroke-width="0.08" >number</text>
<circle cx="530.90" cy="180.50" r="1.5" fill="#111"/>
<text transform="translate(536.30,181.50) rotate(0.2)" font-size="2.8" font-family='"Liberation Sans", sans-serif' fill="#444" stroke="#444" stroke-width="0.06" >300</text>
<circle cx="530.90" cy="186.50" r="1.9" fill="#111"/>
<text transform="translate(536.30,187.50) rotate(0.2)" font-size="2.8" font-family='"Liberation Sans", sans-serif' fill="#444" stroke="#444" stroke-width="0.06" >600</text>
<circle cx="530.90" cy="192.50" r="2.2" fill="#111"/>
<text transform="translate(536.30,193.50) rotate(0.2)" font-size="2.8" font-family='"Liberation Sans", sans-serif' fill="#444" stroke="#444" stroke-width="0.06" >900</text>
<text transform="translate(528.30,206.00) rotate(0.2)" font-size="3.4" font-family='"Liberation Sans", sans-serif' fill="#222" stroke="#222" stroke-width="0.08" >qvalue</text>
<defs><linearGradient id="g528" x1="0" y1="0" x2="0" y2="1"><stop offset="0" stop-color="#a050f0"/><stop offset="0.18" stop-color="#6090f8"/><stop offset="0.33" stop-color="#40d8e8"/><stop offset="0.5" stop-color="#50d060"/><stop offset="0.68" stop-color="#d0c020"/><stop offset="0.84" stop-color="#f06020"/><stop offset="1" stop-color="#f01010"/></linearGradient></defs>
<rect x="528.30" y="209.50" width="5.6" height="30" fill="url(#g528)"/>
<text transform="translate(536.30,210.50) rotate(0.2)" font-size="2.8" font-family='"Liberation Sans", sans-serif' fill="#444" stroke="#444" stroke-width="0.06" >1.00</text>
<text transform="translate(536.30,218.00) rotate(0.2)" font-size="2.8" font-family='"Liberation Sans", sans-serif' fill="#444" stroke="#444" stroke-width="0.06" >0.75</text>
<text transform="translate(536.30,225.50) rotate(0.2)" font-size="2.8" font-family='"Liberation Sans", sans-serif' fill="#444" stroke="#444" stroke-width="0.06" >0.50</text>
<text transform="translate(536.30,233.00) rotate(0.2)" font-size="2.8" font-family='"Liberation Sans", sans-serif' fill="#444" stroke="#444" stroke-width="0.06" >0.25</text>
<text transform="translate(536.30,240.50) rotate(0.2)" font-size="2.8" font-family='"Liberation Sans", sans-serif' fill="#444" stroke="#444" stroke-width="0.06" >0.00</text>
</svg>
</body></html>
